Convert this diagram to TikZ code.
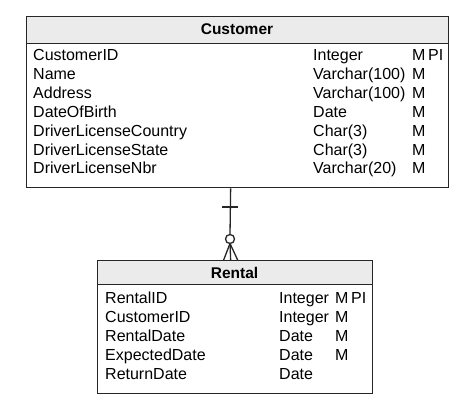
\documentclass[tikz,border=0pt]{standalone}
\usepackage{fontspec}
\setmainfont{Liberation Sans}
\usetikzlibrary{calc}
\begin{document}
\begin{tikzpicture}[x=1pt,y=-1pt,
  ent/.style={draw=black!85, line width=1.3pt, inner sep=0pt, anchor=north west},
  hdr/.style={fill=black!8, draw=black!85, line width=1.3pt, inner sep=0pt, anchor=north west},
  txt/.style={inner sep=0pt, anchor=base west, font=\fontsize{16}{18}\selectfont},
  htxt/.style={inner sep=0pt, anchor=base, font=\fontsize{15.5}{18}\selectfont\bfseries},
  conn/.style={draw=black!85, line width=1.3pt}]
\useasboundingbox (0,0) rectangle (474,412);
\fill[white] (0,0) rectangle (474,412);
% Customer
\node[hdr, minimum width=422pt, minimum height=27pt] (custh) at (26,16) {};
\node[ent, minimum width=422pt, minimum height=171pt] (cust) at (26,16) {};
\node[htxt] (custt) at (237,35) {Customer};
\foreach \n/\t/\m [count=\i from 0] in {CustomerID/Integer/M\,PI, Name/Varchar(100)/M, Address/Varchar(100)/M, DateOfBirth/Date/M, DriverLicenseCountry/Char(3)/M, DriverLicenseState/Char(3)/M, DriverLicenseNbr/Varchar(20)/M}{
  \node[txt] (cn\i) at (33,61+18.8*\i) {\n};
  \node[txt] (ct\i) at (313,61+18.8*\i) {\t};
  \node[txt] (cm\i) at (412,61+18.8*\i) {\m};
}
% Rental
\node[hdr, minimum width=275pt, minimum height=24pt] (renth) at (97,260) {};
\node[ent, minimum width=275pt, minimum height=133pt] (rent) at (97,260) {};
\node[htxt] (rentt) at (234.5,278) {Rental};
\foreach \n/\t/\m [count=\i from 0] in {RentalID/Integer/M\,PI, CustomerID/Integer/M, RentalDate/Date/M, ExpectedDate/Date/M, ReturnDate/Date/{}}{
  \node[txt] (rn\i) at (105,303+19.1*\i) {\n};
  \node[txt] (rt\i) at (279,303+19.1*\i) {\t};
  \node[txt] (rm\i) at (335,303+19.1*\i) {\m};
}
% relationship
\coordinate (ctop) at ([xshift=-7pt]cust.south);
\coordinate (cbot) at ([xshift=-4.5pt]rent.north);
\coordinate (circ) at (230,239);
\draw[conn] (ctop) -- ($(circ)+(0,-4.5)$);
\draw[conn] (circ) circle (4.5);
\draw[conn] (222,207) -- (238,207);
\draw[conn] ($(circ)+(0,4.5)$) -- (cbot);
\draw[conn] ($(circ)+(0,4.5)$) -- ($(cbot)+(-7,0)$);
\draw[conn] ($(circ)+(0,4.5)$) -- ($(cbot)+(7,0)$);
\end{tikzpicture}
\end{document}
